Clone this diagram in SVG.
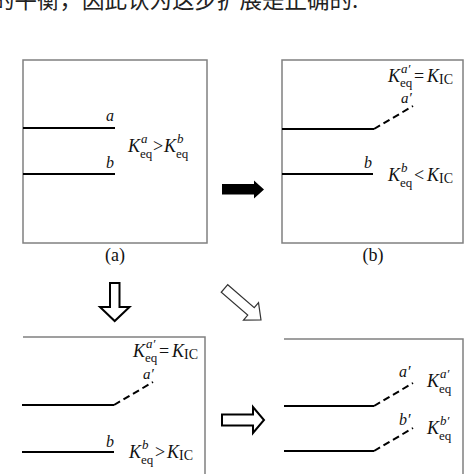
<svg xmlns="http://www.w3.org/2000/svg" width="474" height="474" viewBox="0 0 474 474">
<style>
.frame{fill:none;stroke:#808080;stroke-width:1.5}
.ln{fill:none;stroke:#000;stroke-width:2}
.ds{fill:none;stroke:#000;stroke-width:2;stroke-dasharray:7 4}
text{font-family:"Liberation Serif","Times New Roman",serif;fill:#111}
.K{font-size:18px;font-style:italic}
.s{font-size:13px}
.si{font-size:13px;font-style:italic}
.op{font-size:18px}
.ic{font-size:14px}
.lb{font-size:16px;font-style:italic}
.lbs{font-size:15px;font-style:italic}
.cap{font-size:18px}
.top{font-family:"Noto Sans CJK SC","Noto Sans CJK JP",sans-serif;font-size:22.5px;fill:#222}
</style>
<rect width="474" height="474" fill="#fff"/>
<text class="top" x="-8" y="7.5">的平衡，因此认为这步扩展是正确的.</text>

<g id="panel-a">
<rect class="frame" x="23" y="60" width="184" height="183"/>
<line class="ln" x1="23" y1="128" x2="115" y2="128"/>
<line class="ln" x1="23" y1="174" x2="115" y2="174"/>
<text class="lb" x="106" y="121">a</text>
<text class="lb" x="106" y="168">b</text>
<text class="K" x="128" y="152">K</text><text class="si" x="141" y="143">a</text><text class="s" x="140" y="158">eq</text>
<text class="op" x="153" y="152">&gt;</text>
<text class="K" x="164" y="152">K</text><text class="si" x="177" y="143">b</text><text class="s" x="176" y="158">eq</text>
<text class="cap" x="115" y="261" text-anchor="middle">(a)</text>
</g>

<g id="panel-b">
<rect class="frame" x="282" y="60" width="181" height="183"/>
<line class="ln" x1="282" y1="129" x2="374" y2="129"/>
<line class="ds" x1="374" y1="129" x2="413" y2="106"/>
<line class="ln" x1="282" y1="174" x2="373" y2="174"/>
<text class="lbs" x="401" y="103">a′</text>
<text class="lb" x="364" y="168">b</text>
<text class="K" x="388" y="82">K</text><text class="si" x="401" y="73">a′</text><text class="s" x="400" y="87">eq</text>
<text class="op" x="414" y="82">=</text>
<text class="K" x="427" y="82">K</text><text class="ic" x="439" y="84">IC</text>
<text class="K" x="388" y="181">K</text><text class="si" x="401" y="172">b</text><text class="s" x="400" y="187">eq</text>
<text class="op" x="414" y="181">&lt;</text>
<text class="K" x="427" y="181">K</text><text class="ic" x="439" y="183">IC</text>
<text class="cap" x="373" y="261" text-anchor="middle">(b)</text>
</g>

<g id="panel-c">
<polyline class="frame" points="23,337 205,337 205,474"/>
<line class="ln" x1="22" y1="405" x2="114" y2="405"/>
<line class="ds" x1="114" y1="405" x2="153" y2="382"/>
<line class="ln" x1="22" y1="452" x2="114" y2="452"/>
<text class="lbs" x="143" y="379">a′</text>
<text class="lb" x="106" y="447">b</text>
<text class="K" x="133" y="357">K</text><text class="si" x="146" y="348">a′</text><text class="s" x="145" y="362">eq</text>
<text class="op" x="159" y="357">=</text>
<text class="K" x="172" y="357">K</text><text class="ic" x="184" y="359">IC</text>
<text class="K" x="129" y="458">K</text><text class="si" x="142" y="449">b</text><text class="s" x="141" y="464">eq</text>
<text class="op" x="155" y="458">&gt;</text>
<text class="K" x="167" y="458">K</text><text class="ic" x="179" y="460">IC</text>
</g>

<g id="panel-d">
<polyline class="frame" points="284,339 463,339 463,474"/>
<line class="ln" x1="284" y1="406" x2="374" y2="406"/>
<line class="ds" x1="374" y1="406" x2="413" y2="383"/>
<line class="ln" x1="284" y1="451" x2="374" y2="451"/>
<line class="ds" x1="374" y1="451" x2="413" y2="428"/>
<text class="lb" x="399" y="377">a′</text>
<text class="lb" x="399" y="425">b′</text>
<text class="K" x="427" y="387">K</text><text class="si" x="440" y="378">a′</text><text class="s" x="439" y="393">eq</text>
<text class="K" x="427" y="434">K</text><text class="si" x="440" y="425">b′</text><text class="s" x="439" y="440">eq</text>
</g>

<g id="connectors">
<polygon points="222,184 254,184 254,180.5 264,189.5 254,198.5 254,194.5 222,194.5" fill="#000"/>
<polygon points="110,283 119.5,283 119.5,307 129.5,307 114.7,321 100,307 110,307" fill="#fff" stroke="#000" stroke-width="2" stroke-linejoin="miter"/>
<polygon transform="translate(224.5,288.5) rotate(40.8)" points="0,-5 35,-5 35,-11.5 48.2,0 35,11.5 35,5 0,5" fill="#fff" stroke="#333" stroke-width="1.2"/>
<polygon points="222,414.5 253,414.5 253,407 264,420 253,433 253,425.5 222,425.5" fill="#fff" stroke="#000" stroke-width="2"/>
</g>
</svg>
